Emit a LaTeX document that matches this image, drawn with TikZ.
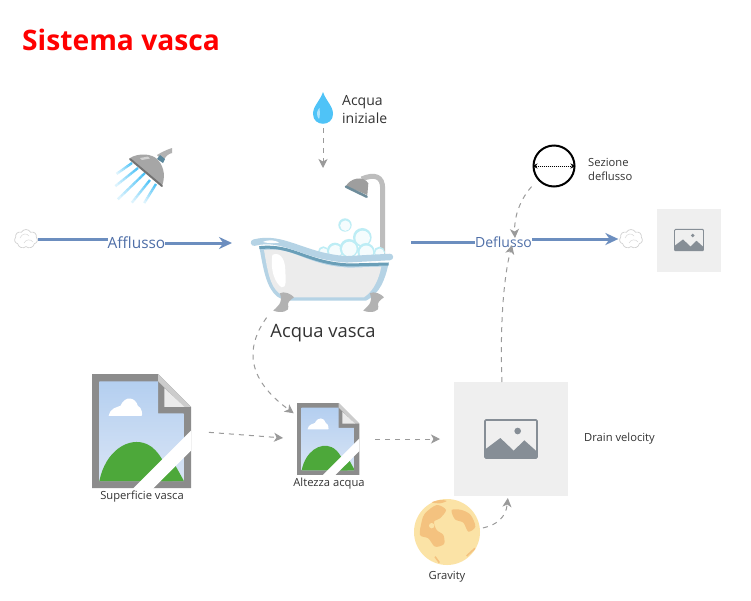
\documentclass[tikz,border=0pt]{standalone}
\usepackage{fontspec}
\setmainfont{Open Sans}
\usetikzlibrary{arrows.meta,calc,shapes.symbols}
\definecolor{flowblue}{HTML}{6C8EBF}
\definecolor{flowtext}{HTML}{4F6FA8}
\definecolor{linkgray}{HTML}{9A9A9A}
\definecolor{tubblue}{HTML}{B5D3E5}
\definecolor{tubdark}{HTML}{6A9FB8}
\definecolor{phbg}{HTML}{EFEFEF}
\definecolor{phicon}{HTML}{868E96}
\definecolor{spraycol}{HTML}{4FC3F7}
\definecolor{moonbase}{HTML}{FBE3A6}
\definecolor{moonspot}{HTML}{F4C27F}
\definecolor{txt}{HTML}{333333}
\definecolor{skytop}{HTML}{B4CFF0}
\definecolor{skybot}{HTML}{D8E4F5}
\definecolor{hill}{HTML}{4DA83A}
\definecolor{bubble}{HTML}{BDEDF5}
\tikzset{
  holder/.style={inner sep=0pt,outer sep=0pt,minimum width=#1},
  flow/.style={draw=flowblue,line width=3pt},
  flowtip/.style={flow,-{Stealth[length=13pt,width=12pt]}},
  link/.style={draw=linkgray,line width=1pt,dash pattern=on 5pt off 5pt,-{Stealth[length=9pt,width=9pt,inset=2.5pt]}},
  flowlabel/.style={inner sep=0pt,text=flowtext},
  smalltext/.style={inner sep=0pt,text=txt,font=\fontsize{11.2}{14}\selectfont,align=left},
  puff/.style={cloud,cloud puffs=7,cloud puff arc=120,aspect=1.2,draw=black!18,fill=white,inner sep=0pt,minimum width=23pt,minimum height=19pt,line width=.7pt},
}
\newcommand{\phicon}[3]{%
  \begin{scope}[shift={(#1,#2)},x=#3pt,y=-#3pt]
    \draw[phicon,line width=5*#3 pt,rounded corners=1pt] (-78,-57) rectangle (78,57);
    \fill[phicon] (-76,30)--(-32,-3)--(8,35)--(40,4)--(77,37)--(77,57)--(-77,57)--cycle;
    \fill[phicon] (20,-24) circle (10);
  \end{scope}}
\newcommand{\brokenicon}[3]{%
  \begin{scope}[shift={(#1,#2)},x=#3pt,y=-#3pt]
    \fill[black!45] (0,0)--(198,0)--(296,98)--(296,341)--(0,341)--cycle;
    \fill[black!20] (198,0)--(296,98)--(274,98)--(198,22)--cycle;
    \begin{scope}
      \clip (22,22)--(198,22)--(198,118)--(274,118)--(274,320)--(22,320)--cycle;
      \shade[top color=skytop,bottom color=skybot] (22,22) rectangle (274,320);
      \fill[white] (50,125) .. controls (55,100) and (75,100) .. (85,95) .. controls (100,62) and (130,70) .. (137,95) .. controls (150,100) and (152,125) .. (148,125) -- cycle;
      \fill[hill] (22,320) .. controls (40,230) and (110,185) .. (165,210) .. controls (200,225) and (225,280) .. (240,320) -- cycle;
      \fill[hill] (205,320) -- (250,275) -- (275,320) -- cycle;
    \end{scope}
    \fill[white!92!black] (216,42)--(276,98)--(216,98)--cycle;
    \begin{scope}
      \clip (0,0) rectangle (296,341);
      \draw[white,line width=42*#3 pt] (330,165) -- (130,365);
    \end{scope}
  \end{scope}}
\newcommand{\spraybeam}[4]{%
  \foreach \f [evaluate=\f as \g using \f+0.105, evaluate=\f as \p using 100-\f*100] in {0,0.1,...,0.9}{
    \draw[spraycol!\p!white,line width=2.4pt] ($(#1,#2)!\f!(#3,#4)$) -- ($(#1,#2)!\g!(#3,#4)$);
  }}
\begin{document}
\begin{tikzpicture}[x=1pt,y=-1pt]
\useasboundingbox (0,0) rectangle (751,600);
\fill[white] (0,0) rectangle (751,600);

% title
\node[inner sep=0pt,anchor=west,text=red,font=\fontsize{28.2}{32}\selectfont\bfseries] (title) at (22,40) {Sistema vasca};

% holders for the pictures
\node[holder=20pt,minimum height=32pt] (drop) at (323,108) {};
\node[holder=142pt,minimum height=144pt] (bath) at (322,244) {};
\node[puff] (cloudA) at (26,239) {};
\node[puff] (cloudB) at (631,239) {};
\node[holder=99pt,minimum height=114pt] (superficie) at (141.5,431) {};
\node[holder=62pt,minimum height=72pt] (altezza) at (328,439) {};
\node[holder=114pt,minimum height=114pt,fill=phbg] (drain) at (511,439) {};
\node[holder=64pt,minimum height=63pt,fill=phbg] (outimg) at (689,240.5) {};
\node[circle,draw=black,line width=2pt,inner sep=0pt,minimum size=41pt] (sezione) at (554,166) {};
\node[circle,fill=moonbase,inner sep=0pt,minimum size=66pt] (moon) at (447,532) {};

% cloud details
\draw[black!15,line width=.5pt] (20,238) .. controls (22,233) and (27,233) .. (29,236) (24,243) .. controls (26,239) and (31,239) .. (33,242);
\draw[black!15,line width=.5pt] (625,238) .. controls (627,233) and (632,233) .. (634,236) (629,243) .. controls (631,239) and (636,239) .. (638,242);

% drop
\fill[spraycol] (323,92) .. controls (326,101) and (333,106) .. (333,114) .. controls (333,127) and (313,127) .. (313,114) .. controls (313,106) and (320,101) .. (323,92) -- cycle;
\fill[white,opacity=.55] (317,114) .. controls (317,110) and (319,109) .. (319.5,108) .. controls (320,112) and (320,117) .. (319,119) .. controls (318,118) and (317,116) .. (317,114) -- cycle;

% shower
\fill[black!30] (172,148) -- (172,153) .. controls (168,154) and (166,156) .. (163,161) -- (157,155) .. controls (162,152) and (166,150) .. (172,148) -- cycle;
\fill[tubdark!85!black] (160,155) -- (165,159) -- (163,163) -- (157,159) -- cycle;
\spraybeam{132}{163}{115}{175}
\spraybeam{138}{168}{113}{188}
\spraybeam{145}{173}{115}{202}
\spraybeam{150}{180}{130}{205}
\spraybeam{156}{184}{143}{205}
\fill[black!35] (130,158) .. controls (138,153) and (152,153) .. (158,160) .. controls (165,168) and (165,178) .. (162,186) -- cycle;
\draw[black!55,line width=2pt,line cap=round] (130,159) -- (162,186);
\fill[white,opacity=.5] (140,158) -- (148,156.5) -- (150,158.5) -- (142,160) -- cycle;

% bath
\begin{scope}[shift={(240,80)},x=.3333pt,y=-.3333pt]
  \draw[black!26,line width=5pt] (428,525) -- (428,325) .. controls (428,290) and (405,280) .. (365,297);
  \fill[black!38] (318,318) .. controls (330,295) and (370,285) .. (385,310) -- (382,345) -- cycle;
  \draw[tubdark!70!black!80,line width=2.6pt,line cap=round] (318,320) -- (380,350);
  \foreach \cx/\cy/\r in {315/435/20,367/472/28,418/517/17,250/515/16,378/515/26,285/512/24,327/505/28}{
    \fill[bubble] (\cx,\cy) circle (\r);
    \fill[white!85!bubble] (\cx+1,\cy+2) circle (\r*.78);
  }
  \fill[tubblue] (58,500) .. controls (70,570) and (80,625) .. (112,650) -- (135,662) -- (378,662) .. controls (420,640) and (435,600) .. (446,550) -- (330,555) .. controls (200,550) and (160,490) .. (58,500) -- cycle;
  \fill[black!7.5] (72,510) .. controls (82,570) and (90,620) .. (118,640) -- (138,652) -- (372,652) .. controls (405,630) and (418,590) .. (424,560) -- (330,563) .. controls (200,558) and (160,498) .. (72,510) -- cycle;
  \fill[white] (97,525) .. controls (115,515) and (135,530) .. (136,570) .. controls (137,600) and (140,625) .. (125,622) .. controls (105,610) and (90,570) .. (97,525) -- cycle;
  \draw[tubdark,line width=3pt] (58,503) .. controls (160,492) and (200,550) .. (330,555) -- (446,552);
  \draw[tubblue,line width=6.5pt,line cap=round] (42,488) .. controls (130,465) and (190,530) .. (320,538) -- (450,531);
  \fill[white] (68,486) .. controls (85,478) and (105,480) .. (118,488) .. controls (100,490) and (85,490) .. (68,486) -- cycle;
  \foreach \fx in {0,270}{
    \begin{scope}[xshift=\fx*.3333pt]
      \fill[black!30] (120,640) .. controls (130,632) and (155,642) .. (162,652) .. controls (150,660) and (140,668) .. (145,680) .. controls (150,692) and (125,702) .. (100,692) .. controls (110,680) and (130,672) .. (120,640) -- cycle;
    \end{scope}
  }
\end{scope}

% moon spots
\begin{scope}[shift={(400,370)},x=.3333pt,y=-.3333pt]
  \fill[moonspot] plot[smooth cycle] coordinates {(75,430)(110,405)(138,420)(120,445)(102,455)(110,480)(130,495)(132,522)(105,530)(85,505)(60,495)(65,455)};
  \fill[moonbase] (95,467) circle (8);
  \fill[moonspot] plot[smooth cycle] coordinates {(155,420)(185,420)(212,435)(226,470)(205,485)(190,458)(165,448)};
  \fill[moonspot] plot[smooth cycle] coordinates {(95,397)(120,390)(140,393)(120,400)};
  \draw[moonspot,line width=1.6pt] (105,560) -- (118,578) (200,558) -- (225,535);
\end{scope}

% placeholder icons and broken images
\phicon{689}{240}{.186}
\phicon{511}{439}{.3333}
\brokenicon{92}{374}{.3345}
\brokenicon{297}{403}{.2105}

% circle arrow
\draw[black,line width=1pt,densely dotted,{Stealth[length=5pt,width=5pt]}-{Stealth[length=5pt,width=5pt]}] (sezione.west) -- (sezione.east);

% text
\node[inner sep=0pt,anchor=west,text=txt,font=\fontsize{14}{18}\selectfont,align=left] (labacqua) at (342,110) {Acqua\\iniziale};
\node[inner sep=0pt,text=txt,font=\fontsize{18.4}{22}\selectfont] (labvasca) at (323,333) {Acqua vasca};
\node[flowlabel,font=\fontsize{15.4}{17}\selectfont] (afflusso) at (136.5,243) {Afflusso};
\node[flowlabel,font=\fontsize{14}{17}\selectfont] (deflusso) at (503.5,242) {Deflusso};
\node[smalltext,anchor=west] (labsez) at (588,169) {Sezione\\deflusso};
\node[smalltext] (labsup) at (142,497) {Superficie vasca};
\node[smalltext] (labalt) at (329,484) {Altezza acqua};
\node[smalltext,anchor=west] (labdrain) at (584,439) {Drain velocity};
\node[smalltext] (labgrav) at (447,577) {Gravity};

% flows
\draw[flow] (cloudA.east) -- (afflusso.west |- cloudA.east);
\draw[flowtip,shorten >=19pt] (afflusso.east) -- (bath.west |- afflusso.east);
\draw[flow,shorten <=18pt] (bath.east |- deflusso.west) -- (deflusso.west);
\draw[flowtip,shorten >=1pt] (deflusso.east |- cloudB.west) -- (cloudB.west);

% links
\coordinate (valveA) at (515,238);
\coordinate (valveB) at (512,245);
\draw[link,shorten <=4pt,shorten >=4pt] (drop.south) -- (bath.north -| drop.south);
\draw[link,shorten <=9pt] (sezione.220) .. controls (518,202) and (514,220) .. (valveA);
\draw[link] (drain.99) .. controls (500,330) and (503,280) .. (valveB);
\draw[link,shorten <=2pt,shorten >=4pt] (bath.233) .. controls (240,355) and (255,385) .. (altezza.143);
\draw[link,shorten <=18pt,shorten >=14pt] (superficie.east) -- (altezza.west);
\draw[link,shorten <=16pt,shorten >=14pt] (altezza.east) -- (drain.west);
\draw[link,shorten <=3pt,shorten >=2pt] (moon.6) .. controls (497,525) and (506,517) .. (drain.267);
\end{tikzpicture}
\end{document}
